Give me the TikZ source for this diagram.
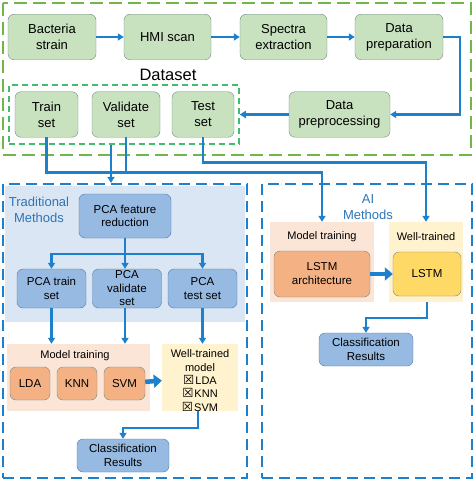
\documentclass[tikz,border=0pt]{standalone}
\usepackage{fontspec}
\setmainfont{Liberation Sans}
\newfontfamily\symfont{DejaVu Sans}
\usetikzlibrary{arrows.meta}
\definecolor{outerGreen}{RGB}{112,182,72}
\definecolor{innerGreen}{RGB}{64,190,110}
\definecolor{stepGreen}{RGB}{200,226,192}
\definecolor{boxGrey}{RGB}{120,135,130}
\definecolor{lineBlue}{RGB}{28,128,204}
\definecolor{textBlue}{RGB}{46,117,182}
\definecolor{paleBlue}{RGB}{218,230,243}
\definecolor{pcaBlue}{RGB}{150,186,226}
\definecolor{pcaEdge}{RGB}{82,122,170}
\definecolor{palePink}{RGB}{251,229,215}
\definecolor{salmon}{RGB}{244,178,132}
\definecolor{paleYellow}{RGB}{255,242,206}
\definecolor{lstmYellow}{RGB}{255,217,102}
\newcommand{\xbox}{{\symfont\fontsize{12.5}{13}\selectfont ☒}\kern1pt}
\begin{document}
\begin{tikzpicture}
[x=1pt,y=-1pt,
  stepBox/.style={draw=boxGrey,fill=stepGreen,rounded corners=6pt,align=center,inner sep=0pt,font=\fontsize{13}{16}\selectfont},
  pcaBox/.style={draw=pcaEdge,fill=pcaBlue,rounded corners=6pt,align=center,inner sep=0pt,font=\fontsize{11.5}{13.5}\selectfont},
  modelBox/.style={draw=boxGrey,fill=salmon,rounded corners=6pt,align=center,inner sep=0pt,font=\fontsize{11.5}{14}\selectfont},
  areaBox/.style={inner sep=0pt},
  smallLabel/.style={font=\fontsize{11}{13.5}\selectfont,align=center},
  methodLabel/.style={font=\fontsize{13}{15.5}\selectfont,align=center,text=textBlue},
  dashBox/.style={draw=lineBlue,line width=2.2pt,dash pattern=on 11pt off 6pt,inner sep=0pt},
  linkArrow/.style={draw=lineBlue,line width=2.1pt,-{Triangle[length=6pt,width=7pt]}},
  linkLine/.style={draw=lineBlue,line width=2.1pt},
  bigArrow/.style={draw=lineBlue,line width=4.5pt,-{Triangle[length=8pt,width=13pt]}}]
\useasboundingbox (0,0) rectangle (474,481);
%% dataset frame
\draw[outerGreen,line width=2.5pt,dash pattern=on 13pt off 6pt] (3,3) rectangle (471,155);
\node (dataset) at (124,114.5) [draw=innerGreen,line width=1.5pt,dash pattern=on 6pt off 4pt,minimum width=230,minimum height=59] {};
\node (dslabel) at (168,75) [font=\fontsize{16.5}{19}\selectfont] {Dataset};
%% method frames
\fill[paleBlue] (5,186) rectangle (245,322);
\node (trad) at (125,331) [dashBox,minimum width=244,minimum height=294] {};
\node (ai) at (367,331) [dashBox,minimum width=210,minimum height=294] {};
\node (tradlabel) at (39,210) [methodLabel] {Traditional\\Methods};
\node (ailabel) at (368,207) [methodLabel] {AI\\Methods};
%% background areas
\node (tradtrain) at (78.5,377.5) [areaBox,fill=palePink,minimum width=143,minimum height=67] {};
\node (tradwell) at (200,377.5) [areaBox,fill=paleYellow,minimum width=76,minimum height=67] {};
\node (aitrain) at (322,262) [areaBox,fill=palePink,minimum width=104,minimum height=80] {};
\node (aiwell) at (426,262) [areaBox,fill=paleYellow,minimum width=74,minimum height=80] {};
%% nodes or vertices
\foreach \nodename/\x/\y/\w/\txt in {bact/52/37/88/{Bacteria\\strain}, hmi/167.5/37/87/{HMI scan},
  spec/283.5/37/87/{Spectra\\extraction}, prep/399/37/88/{Data\\preparation},
  train/46.5/114.5/63/{Train\\set}, valid/126/114.5/68/{Validate\\set},
  test/203/114.5/62/{Test\\set}, preproc/339.5/114.5/101/{Data\\preprocessing}}
{
  \node (\nodename) at (\x,\y) [stepBox,minimum width=\w,minimum height=45.5] {\txt};
}
\node (pca) at (125,216) [pcaBox,minimum width=92,minimum height=44] {PCA feature\\reduction};
\foreach \nodename/\x/\txt in {pcatrain/51.5/{PCA train\\set}, pcaval/127/{PCA\\validate\\set}, pcatest/202.5/{PCA\\test set}}
{
  \node (\nodename) at (\x,288.5) [pcaBox,minimum width=69,minimum height=39] {\txt};
}
\node (tradtrainlabel) at (75,356) [smallLabel] {Model training};
\foreach \nodename/\x/\w in {LDA/30/40, KNN/77/40, SVM/124.5/41}
{
  \node (\nodename) at (\x,383.5) [modelBox,minimum width=\w,minimum height=33] {\nodename};
}
\node (tradwelltext) at (200,380.5) [smallLabel,font=\fontsize{11}{13.4}\selectfont] {Well-trained\\model\\\xbox LDA\\\xbox KNN\\\xbox SVM};
\node (tradres) at (123,455.5) [pcaBox,minimum width=92,minimum height=33] {Classification\\Results};
\node (aitrainlabel) at (322,237) [smallLabel] {Model training};
\node (aiwelllabel) at (426,237) [smallLabel] {Well-trained};
\node (lstmarch) at (322,274) [modelBox,minimum width=96,minimum height=46] {LSTM\\architecture};
\node (lstm) at (427,274) [modelBox,fill=lstmYellow,minimum width=68,minimum height=44] {LSTM};
\node (aires) at (366,349.5) [pcaBox,minimum width=94,minimum height=33] {Classification\\Results};
%% edges or lines
\path
(bact) edge[linkArrow] (hmi)
(hmi) edge[linkArrow] (spec)
(spec) edge[linkArrow] (prep)
(preproc) edge[linkArrow] (dataset)
(SVM) edge[bigArrow] (tradwell)
(lstmarch) edge[bigArrow] (lstm);
\draw[linkArrow] (prep.east) -- ++(17,0) |- (preproc.east);
\draw[linkArrow] (train.south) -- ++(0,35) -| (aitrain.north);
\draw[linkLine] (valid.south) -- ++(0,35);
\draw[linkArrow] ([xshift=-13pt]dataset.south) -- ([xshift=-13pt]dataset.south |- trad.north);
\draw[linkArrow] (test.south) -- ++(0,25) -| (aiwell.north);
\draw[linkArrow] (pca.south) -- ++(0,16) -| (pcatrain.north);
\draw[linkArrow] (pca.south) -- (pcaval.north -| pca.south);
\draw[linkArrow] (pca.south) -- ++(0,16) -| (pcatest.north);
\draw[linkArrow] (pcatrain.south) -- (pcatrain.south |- tradtrain.north);
\draw[linkArrow] ([xshift=-2pt]pcaval.south) -- ([xshift=-2pt]pcaval.south |- tradtrain.north);
\draw[linkArrow] (pcatest.south) -- (pcatest.south |- tradwell.north);
\draw[linkArrow] ([xshift=-2pt]tradwell.south) -- ++(0,17) -| (tradres.north);
\draw[linkArrow] ([xshift=1pt]aiwell.south) -- ++(0,16) -| (aires.north);
\end{tikzpicture}
\end{document}
